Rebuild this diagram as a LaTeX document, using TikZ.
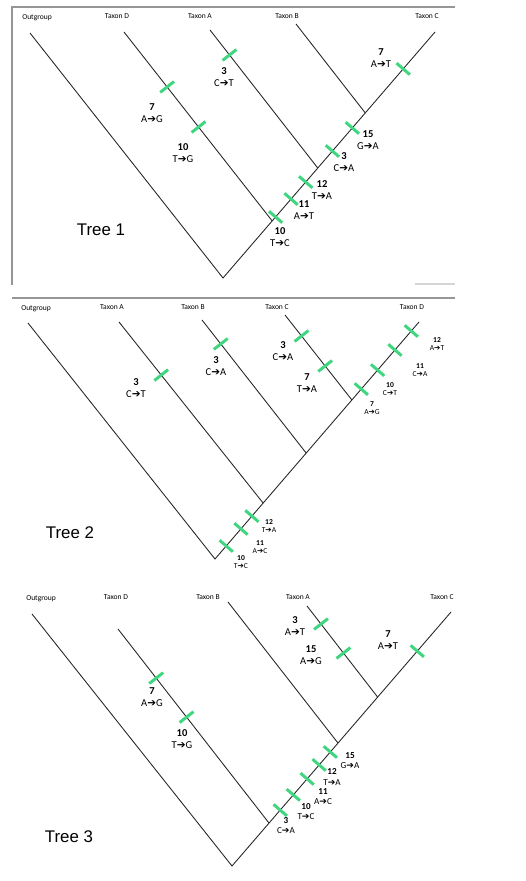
\documentclass[tikz,border=0pt]{standalone}
\usepackage{fontspec}
\setmainfont{Carlito}
\newfontfamily\arrowfont{DejaVu Sans}
\newfontfamily\titlefont{Liberation Sans}
\usetikzlibrary{calc}
\definecolor{tickgreen}{RGB}{64,214,128}
\definecolor{framegray}{RGB}{150,150,150}
\newcommand{\arr}{{\arrowfont ➔}}
\newcommand{\mutlab}[2]{\textbf{#1}\\#2}

\tikzset{
    branch/.style={line width=0.5pt, draw=black!85},
    mut/.style={sloped, fill=tickgreen, draw=none, inner sep=0pt, minimum width=1.7pt, minimum height=10pt},
    lab/.style={align=center, inner sep=0pt, font=\fontsize{6}{6.8}\selectfont},
    midlab/.style={align=center, inner sep=0pt, font=\fontsize{5.2}{5.7}\selectfont},
    smllab/.style={align=center, inner sep=0pt, font=\fontsize{4.3}{4.6}\selectfont},
    taxon/.style={inner sep=0pt, font=\fontsize{4.3}{5}\selectfont},
    treename/.style={inner sep=0pt, font=\titlefont\fontsize{9.6}{11}\selectfont},
    frame/.style={draw=framegray, line width=0.6pt}
}

\begin{document}
\begin{tikzpicture}[x=0.02cm, y=-0.02cm]
    \useasboundingbox (0,0) rectangle (525,881);
    % frame bits
    \draw[frame] (12,285) -- (12,7) -- (455,7);
    \draw[framegray!40, line width=1.2pt] (415,284) -- (455,284);
    \draw[frame, line width=0.9pt] (12,298) -- (455,298);

    % ---------------- Tree 1
    \coordinate (rootI) at (223,278);
    \coordinate (tipIO) at (30,33);
    \coordinate (tipID) at (124,32);
    \coordinate (tipIA) at (210,30);
    \coordinate (tipIB) at (296,24);
    \coordinate (tipIC) at (435,32);
    \coordinate (jID) at ($(rootI)!0.232!(tipIC)$);
    \coordinate (jIA) at ($(rootI)!0.447!(tipIC)$);
    \coordinate (jIB) at ($(rootI)!0.671!(tipIC)$);
    \draw[branch] (tipIO) -- (rootI) -- (tipIC);
    \draw[branch] (tipID) -- (jID);
    \draw[branch] (tipIA) -- (jIA);
    \draw[branch] (tipIB) -- (jIB);
    \foreach \p [count=\i] in {0.248,0.321,0.390,0.516,0.610,0.850}
        \path (rootI) -- (tipIC) node[mut, pos=\p] (mI\i) {};
    \path (tipID) -- (jID) node[mut, pos=0.291] (mID1) {} node[mut, pos=0.503] (mID2) {};
    \path (tipIA) -- (jIA) node[mut, pos=0.181] (mIA1) {};
    \node[taxon] (txIO) at (37,18) {Outgroup};
    \node[taxon] (txID) at (117,16) {Taxon D};
    \node[taxon] (txIA) at (200,16) {Taxon A};
    \node[taxon] (txIB) at (287,16) {Taxon B};
    \node[taxon] (txIC) at (427,16) {Taxon C};
    \node[lab] (lI1) at (152,113) {\mutlab{7}{A\arr G}};
    \node[lab] (lI2) at (183,153) {\mutlab{10}{T\arr G}};
    \node[lab] (lI3) at (224,77) {\mutlab{3}{C\arr T}};
    \node[lab] (lI4) at (381,58) {\mutlab{7}{A\arr T}};
    \node[lab] (lI5) at (368,140) {\mutlab{15}{G\arr A}};
    \node[lab] (lI6) at (344,162) {\mutlab{3}{C\arr A}};
    \node[lab] (lI7) at (322,190) {\mutlab{12}{T\arr A}};
    \node[lab] (lI8) at (304,210) {\mutlab{11}{A\arr T}};
    \node[lab] (lI9) at (280,237) {\mutlab{10}{T\arr C}};
    \node[treename] (tI) at (101,230) {Tree 1};

    % ---------------- Tree 2
    \coordinate (rootII) at (215,559);
    \coordinate (tipIIO) at (28,323);
    \coordinate (tipIIA) at (119,322);
    \coordinate (tipIIB) at (202,320);
    \coordinate (tipIIC) at (285,315);
    \coordinate (tipIID) at (419,322);
    \coordinate (jIIA) at ($(rootII)!0.236!(tipIID)$);
    \coordinate (jIIB) at ($(rootII)!0.447!(tipIID)$);
    \coordinate (jIIC) at ($(rootII)!0.671!(tipIID)$);
    \draw[branch] (tipIIO) -- (rootII) -- (tipIID);
    \draw[branch] (tipIIA) -- (jIIA);
    \draw[branch] (tipIIB) -- (jIIB);
    \draw[branch] (tipIIC) -- (jIIC);
    \foreach \p [count=\i] in {0.055,0.127,0.181,0.717,0.797,0.882,0.962}
        \path (rootII) -- (tipIID) node[mut, pos=\p] (mII\i) {};
    \path (tipIIA) -- (jIIA) node[mut, pos=0.293] (mIIA1) {};
    \path (tipIIB) -- (jIIB) node[mut, pos=0.180] (mIIB1) {};
    \path (tipIIC) -- (jIIC) node[mut, pos=0.247] (mIIC1) {} node[mut, pos=0.600] (mIIC2) {};
    \node[taxon] (txIIO) at (36,309) {Outgroup};
    \node[taxon] (txIIA) at (112,307) {Taxon A};
    \node[taxon] (txIIB) at (193,307) {Taxon B};
    \node[taxon] (txIIC) at (277,307) {Taxon C};
    \node[taxon] (txIID) at (412,307) {Taxon D};
    \node[lab] (lII1) at (136,388) {\mutlab{3}{C\arr T}};
    \node[lab] (lII2) at (216,366) {\mutlab{3}{C\arr A}};
    \node[lab] (lII3) at (283,351) {\mutlab{3}{C\arr A}};
    \node[lab] (lII4) at (307,383) {\mutlab{7}{T\arr A}};
    \node[smllab] (lII5) at (437,344) {\mutlab{12}{A\arr T}};
    \node[smllab] (lII6) at (420,370) {\mutlab{11}{C\arr A}};
    \node[smllab] (lII7) at (390,389) {\mutlab{10}{C\arr T}};
    \node[smllab] (lII8) at (372,408) {\mutlab{7}{A\arr G}};
    \node[smllab] (lII9) at (269,526) {\mutlab{12}{T\arr A}};
    \node[smllab] (lII10) at (260,547) {\mutlab{11}{A\arr C}};
    \node[smllab] (lII11) at (241,562) {\mutlab{10}{T\arr C}};
    \node[treename] (tII) at (70,533) {Tree 2};

    % ---------------- Tree 3
    \coordinate (rootIII) at (232,866);
    \coordinate (tipIIIO) at (32,614);
    \coordinate (tipIIID) at (118,629);
    \coordinate (tipIIIB) at (228,602);
    \coordinate (tipIIIA) at (307,606);
    \coordinate (tipIIIC) at (451,612);
    \coordinate (jIIID) at ($(rootIII)!0.169!(tipIIIC)$);
    \coordinate (jIIIB) at ($(rootIII)!0.484!(tipIIIC)$);
    \coordinate (jIIIA) at ($(rootIII)!0.665!(tipIIIC)$);
    \draw[branch] (tipIIIO) -- (rootIII) -- (tipIIIC);
    \draw[branch] (tipIIID) -- (jIIID);
    \draw[branch] (tipIIIB) -- (jIIIB);
    \draw[branch] (tipIIIA) -- (jIIIA);
    \foreach \p [count=\i] in {0.220,0.280,0.343,0.398,0.449,0.846}
        \path (rootIII) -- (tipIIIC) node[mut, pos=\p] (mIII\i) {};
    \path (tipIIID) -- (jIIID) node[mut, pos=0.253] (mIIID1) {} node[mut, pos=0.454] (mIIID2) {};
    \path (tipIIIA) -- (jIIIA) node[mut, pos=0.198] (mIIIA1) {} node[mut, pos=0.516] (mIIIA2) {};
    \node[taxon] (txIIIO) at (41,599) {Outgroup};
    \node[taxon] (txIIID) at (116,597) {Taxon D};
    \node[taxon] (txIIIB) at (208,597) {Taxon B};
    \node[taxon] (txIIIA) at (298,597) {Taxon A};
    \node[taxon] (txIIIC) at (442,597) {Taxon C};
    \node[lab] (lIII1) at (152,697) {\mutlab{7}{A\arr G}};
    \node[lab] (lIII2) at (182,739) {\mutlab{10}{T\arr G}};
    \node[lab] (lIII3) at (295,626) {\mutlab{3}{A\arr T}};
    \node[lab] (lIII4) at (311,655) {\mutlab{15}{A\arr G}};
    \node[lab] (lIII5) at (388,640) {\mutlab{7}{A\arr T}};
    \node[midlab] (lIII6) at (350,761) {\mutlab{15}{G\arr A}};
    \node[midlab] (lIII7) at (332,777) {\mutlab{12}{T\arr A}};
    \node[midlab] (lIII8) at (323,797) {\mutlab{11}{A\arr C}};
    \node[midlab] (lIII9) at (306,812) {\mutlab{10}{T\arr C}};
    \node[midlab] (lIII10) at (286,826) {\mutlab{3}{C\arr A}};
    \node[treename] (tIII) at (69,837) {Tree 3};
\end{tikzpicture}
\end{document}
